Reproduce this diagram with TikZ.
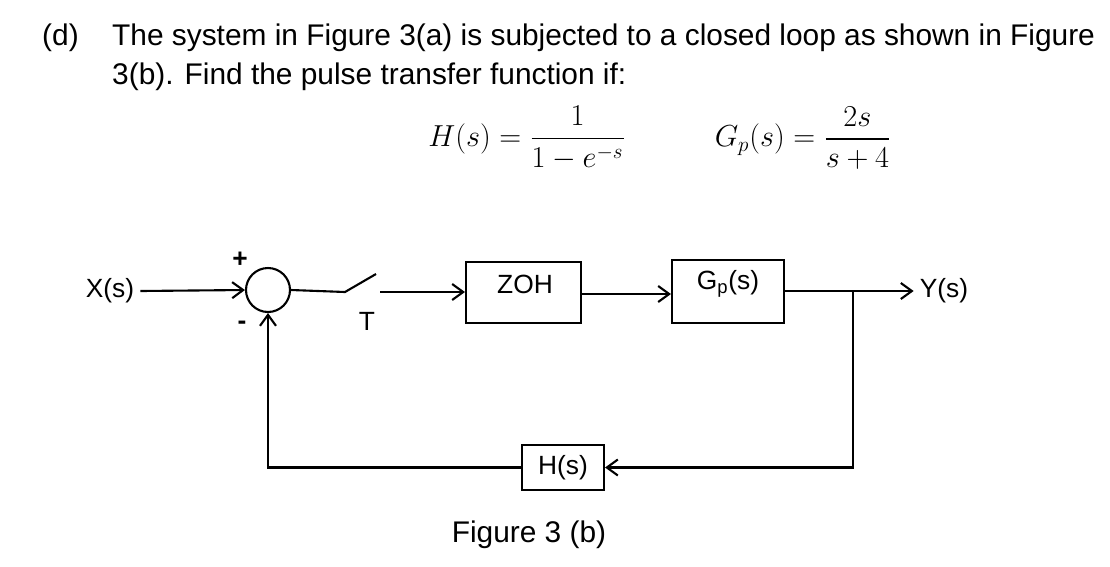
\documentclass[tikz,border=0pt]{standalone}
\usepackage{fontspec}
\setmainfont{Liberation Sans}
\usepackage{amsmath}
\usetikzlibrary{arrows.meta}
\begin{document}
\begin{tikzpicture}[x=0.02cm,y=-0.02cm,
  block/.style={draw,line width=1.2pt,inner sep=0pt},
  lbl/.style={font=\fontsize{15}{17}\selectfont},
  sig/.style={line width=1.2pt,-{Straight Barb[length=2.2mm,width=3.2mm,line width=1.2pt]}},
  wire/.style={line width=1.2pt}]
\useasboundingbox (0,0) rectangle (1110,566);

% question text
\node[anchor=base west,font=\fontsize{17}{20}\selectfont] (q) at (36,45) {(d)};
\node[anchor=base west,font=\fontsize{17}{20}\selectfont] (q1) at (106,45) {The system in Figure 3(a) is subjected to a closed loop as shown in Figure};
\node[anchor=base west,font=\fontsize{17}{20}\selectfont] (q2) at (106,84) {3(b). Find the pulse transfer function if:};
\node[font=\fontsize{18}{21}\selectfont] (hs) at (527,138) {$H(s)=\dfrac{1}{1-e^{-s}}$};
\node[font=\fontsize{18}{21}\selectfont] (gs) at (803,138) {$G_p(s)=\dfrac{2s}{s+4}$};

% blocks
\node[lbl] (x) at (110,291) {X(s)};
\node[draw,circle,line width=1.2pt,inner sep=0pt,minimum size=0.88cm] (sum) at (268,290) {};
\node[lbl,font=\bfseries\fontsize{15}{17}\selectfont] (plus) at (240,260) {+};
\node[lbl,font=\bfseries\fontsize{15}{17}\selectfont] (minus) at (242,325) {-};
\node[block,minimum width=2.3cm,minimum height=1.22cm] (zoh) at (523.5,292.5) {};
\node[lbl] at (525,284) {ZOH};
\node[block,minimum width=2.24cm,minimum height=1.26cm] (gp) at (728,291.5) {};
\node[lbl] at (728,284) {G\textsubscript{p}(s)};
\node[block,minimum width=1.64cm,minimum height=0.9cm,lbl] (h) at (563,467.5) {H(s)};
\node[lbl] (y) at (944,291) {Y(s)};
\node[lbl] (t) at (367,321) {T};
\node[font=\fontsize{17}{20}\selectfont] (fig) at (529,535) {Figure 3 (b)};

\coordinate (sw1) at (345,292);
\coordinate (sw2) at (376,274);
\coordinate (sw3) at (380,292);
\coordinate (br) at (853,291);

% connections
\draw[sig] (x.east) -- (sum.west);
\draw[wire] (sum.east) -- (sw1) -- (sw2);
\draw[sig] (sw3) -- (zoh.west |- sw3);
\draw[sig] (zoh.east |- 0,294) -- (gp.west |- 0,294);
\draw[sig] (gp.east |- br) -- (y.west);
\draw[sig] (br) |- (h.east);
\draw[sig] (h.west) -| (sum.south);
\end{tikzpicture}
\end{document}
